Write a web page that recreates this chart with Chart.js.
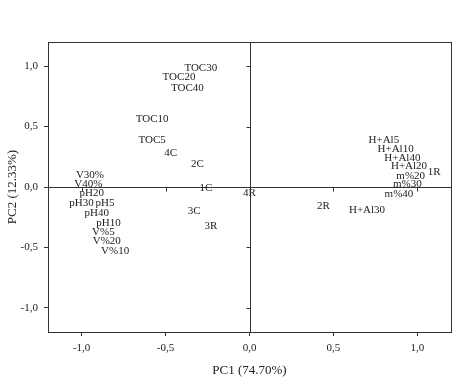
<!DOCTYPE html>
<html>
<head>
<meta charset="utf-8">
<script src="https://cdn.jsdelivr.net/npm/chart.js@4"></script>
<style>
  html, body { margin: 0; padding: 0; background: #fff; }
  #wrap { width: 474px; height: 379px; }
</style>
</head>
<body>
<div id="wrap"><canvas id="pcaChart" width="474" height="379"></canvas></div>
<script>
// rótulos das variáveis / amostras
const labels = [
    'TOC30', 'TOC20', 'TOC40', 'TOC10', 'TOC5', '4C', '2C',
    'V30%', 'V40%', 'pH20', 'pH30', 'pH5', 'pH40', 'pH10', 'V%5', 'V%20', 'V%10',
    '1C', '3C', '3R', '4R', '2R', 'H+Al30',
    'H+Al5', 'H+Al10', 'H+Al40', 'H+Al20', 'm%20', '1R', 'm%30', 'm%40'
];
// PC1
const pc1 = [
    -0.29, -0.42, -0.37, -0.58, -0.58, -0.47, -0.31,
    -0.95, -0.96, -0.94, -1.00, -0.86, -0.91, -0.84, -0.87, -0.85, -0.80,
    -0.26, -0.33, -0.23, 0.00, 0.44, 0.70,
    0.80, 0.87, 0.91, 0.95, 0.96, 1.10, 0.94, 0.89
];
// PC2
const pc2 = [
    0.98, 0.91, 0.82, 0.56, 0.39, 0.28, 0.19,
    0.10, 0.02, -0.05, -0.13, -0.13, -0.22, -0.30, -0.37, -0.45, -0.53,
    -0.01, -0.20, -0.32, -0.05, -0.16, -0.19,
    0.39, 0.31, 0.24, 0.17, 0.09, 0.12, 0.02, -0.06
];
const tickValues = [-1, -0.5, 0, 0.5, 1];

const serif = "'Liberation Serif', 'DejaVu Serif', serif";
const ink = '#222';

function fmt(v) {
    return v.toFixed(1).replace('.', ',');
}

// moldura, linhas do zero e rótulos de texto
const pcaPlugin = {
    id: 'pcaPlugin',
    afterDatasetsDraw(chart) {
        const ctx = chart.ctx;
        const a = chart.chartArea;
        const xs = chart.scales.x;
        const ys = chart.scales.y;
        ctx.save();
        ctx.strokeStyle = '#333';
        ctx.lineWidth = 1;
        ctx.strokeRect(a.left + 0.5, a.top + 0.5, a.right - a.left, a.bottom - a.top);
        const x0 = Math.round(xs.getPixelForValue(0)) + 0.5;
        const y0 = Math.round(ys.getPixelForValue(0)) + 0.5;
        ctx.beginPath();
        ctx.moveTo(x0, a.top);
        ctx.lineTo(x0, a.bottom);
        ctx.moveTo(a.left, y0);
        ctx.lineTo(a.right, y0);
        tickValues.forEach(v => {
            const px = Math.round(xs.getPixelForValue(v)) + 0.5;
            const py = Math.round(ys.getPixelForValue(v)) + 0.5;
            ctx.moveTo(px, y0);
            ctx.lineTo(px, y0 + 4);
            ctx.moveTo(x0, py);
            ctx.lineTo(x0 - 4, py);
        });
        ctx.stroke();

        ctx.fillStyle = ink;
        ctx.font = '11px ' + serif;
        ctx.textAlign = 'center';
        ctx.textBaseline = 'middle';
        const meta = chart.getDatasetMeta(0);
        meta.data.forEach((pt, i) => {
            ctx.fillText(labels[i], pt.x, pt.y);
        });
        ctx.restore();
    }
};

function createPcaChart() {
    const ctx = document.getElementById('pcaChart').getContext('2d');
    new Chart(ctx, {
        type: 'scatter',
        data: {
            datasets: [{
                data: pc1.map((v, i) => ({ x: v, y: pc2[i] })),
                pointRadius: 0,
                pointHoverRadius: 0
            }]
        },
        options: {
            responsive: false,
            animation: false,
            layout: { padding: { left: 0, right: 23, top: 42, bottom: 0 } },
            plugins: { legend: { display: false }, tooltip: { enabled: false } },
            scales: {
                x: {
                    min: -1.2, max: 1.2,
                    afterBuildTicks: s => { s.ticks = tickValues.map(v => ({ value: v })); },
                    afterFit: s => { s.height = 47; },
                    grid: { display: true, drawOnChartArea: false, tickLength: 4, tickColor: '#333' },
                    border: { display: false },
                    ticks: {
                        color: ink, padding: 6, maxRotation: 0,
                        font: { family: serif, size: 11 },
                        callback: v => fmt(v)
                    },
                    title: {
                        display: true, text: 'PC1 (74.70%)', color: ink,
                        font: { family: serif, size: 13 },
                        padding: { top: 0, bottom: 1 }
                    }
                },
                y: {
                    min: -1.2, max: 1.2,
                    afterBuildTicks: s => { s.ticks = tickValues.map(v => ({ value: v })); },
                    afterFit: s => { s.width = 48; },
                    grid: { display: true, drawOnChartArea: false, tickLength: 4, tickColor: '#333' },
                    border: { display: false },
                    ticks: {
                        color: ink, padding: 6,
                        font: { family: serif, size: 11 },
                        callback: v => fmt(v)
                    },
                    title: {
                        display: true, text: 'PC2 (12.33%)', color: ink,
                        font: { family: serif, size: 13 },
                        padding: { top: 5, bottom: 0 }
                    }
                }
            }
        },
        plugins: [pcaPlugin]
    });
}

createPcaChart();
</script>
</body>
</html>
